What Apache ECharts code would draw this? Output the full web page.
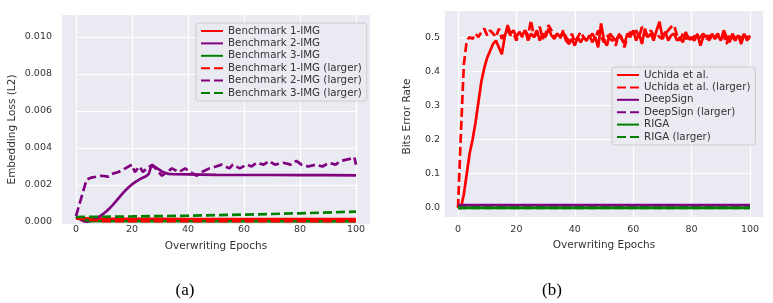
<!DOCTYPE html>
<html>
<head>
<meta charset="utf-8">
<script src="https://cdn.jsdelivr.net/npm/echarts@6/dist/echarts.min.js"></script>
<style>
  html, body { margin: 0; padding: 0; background: #fff; }
  #chart { width: 773px; height: 303px; }
</style>
</head>
<body>
<div id="chart"></div>
<script>
// ---- (a) embedding loss ----
const b1Epochs = [0, 10, 20, 30, 40, 50, 60, 70, 80, 90, 100];
const b1Loss = [0.0002, 0.00018, 0.00017, 0.00017, 0.00016, 0.00016, 0.00016, 0.00016, 0.00016, 0.00016, 0.00016];

const b2Epochs = [0, 1, 2, 3, 4, 5, 6, 7, 8, 9, 10, 11, 12, 13, 14, 15, 16, 17, 18, 19, 20,
  21, 22, 23, 24, 25, 26, 27, 28, 29, 30, 31, 32, 33, 35, 40, 45, 50, 60, 70, 80, 90, 100];
const b2Loss = [0.0003, 0.0002, 0.0001, 0.00003, 0.00002, 0.00005, 0.0001, 0.00017, 0.00026, 0.00036, 0.00047,
  0.0006, 0.00074, 0.0009, 0.00107, 0.00125, 0.00143, 0.0016, 0.00176, 0.0019, 0.00203,
  0.00214, 0.00224, 0.00233, 0.0024, 0.00247, 0.0026, 0.0031, 0.003, 0.0029, 0.0028, 0.0027, 0.00265, 0.0026,
  0.00258, 0.00257, 0.00256, 0.00255, 0.00254, 0.00254, 0.00253, 0.00253, 0.00252];

const b3Epochs = [0, 5, 100];
const b3Loss = [0.00025, 0.00004, 0.00003];

const b1LEpochs = [0, 10, 100];
const b1LLoss = [0.0002, 0.00005, 0.00005];

const b2LEpochs = [0, 3.8, 5.5, 9, 11.6, 12.8, 15.2, 17.6, 20, 21, 22.7, 23.9, 26, 27.8, 29.5, 30.7, 32.5, 34.3,
  36.7, 39, 40.7, 43.2, 45, 47.6, 50, 52, 54.8, 56, 58.5, 61, 62.7, 64.5, 67, 69, 71, 74, 76.7, 78.7,
  80.5, 83, 85.6, 88, 90.4, 92.7, 94.5, 97.5, 99.4, 100];
const b2LLoss = [0.00032, 0.0023, 0.0024, 0.0025, 0.00245, 0.0026, 0.0027, 0.0029, 0.0031, 0.0027, 0.003, 0.0027,
  0.003, 0.003, 0.0027, 0.0025, 0.0027, 0.0029, 0.0027, 0.0029, 0.0027, 0.0025, 0.0027, 0.0029, 0.003, 0.0031,
  0.0029, 0.0031, 0.0029, 0.0031, 0.003, 0.0032, 0.0031, 0.0033, 0.0031, 0.0032, 0.0031, 0.0033,
  0.0031, 0.003, 0.0031, 0.003, 0.0032, 0.0031, 0.0033, 0.0034, 0.0035, 0.0031];

const b3LEpochs = [0, 20, 40, 60, 80, 100];
const b3LLoss = [0.00027, 0.0003, 0.00034, 0.0004, 0.00047, 0.00056];

// ---- (b) bits error rate ----
const uchidaBer = [0.0, 0.0, 0.04, 0.1, 0.16, 0.2, 0.25, 0.31, 0.37, 0.41,
  0.44, 0.46, 0.48, 0.49, 0.47, 0.45, 0.5, 0.535, 0.51, 0.52,
  0.5, 0.515, 0.505, 0.52, 0.49, 0.51, 0.5, 0.52, 0.49, 0.51,
  0.5, 0.525, 0.505, 0.495, 0.51, 0.5, 0.515, 0.49, 0.48, 0.495,
  0.475, 0.5, 0.485, 0.5, 0.49, 0.505, 0.485, 0.5, 0.47, 0.54,
  0.49, 0.475, 0.51, 0.5, 0.49, 0.505, 0.495, 0.48, 0.51, 0.5,
  0.52, 0.49, 0.51, 0.48, 0.525, 0.5, 0.51, 0.49, 0.52, 0.545,
  0.5, 0.515, 0.49, 0.505, 0.51, 0.49, 0.5, 0.485, 0.515, 0.495,
  0.5, 0.49, 0.51, 0.475, 0.5, 0.505, 0.49, 0.51, 0.495, 0.505,
  0.49, 0.52, 0.5, 0.485, 0.51, 0.495, 0.505, 0.48, 0.51, 0.49, 0.505];
const uchidaLBer = [0.0, 0.22, 0.42, 0.49, 0.5, 0.495, 0.51, 0.5, 0.515, 0.525,
  0.505, 0.52, 0.51, 0.5, 0.525, 0.495, 0.515, 0.52, 0.505, 0.51,
  0.49, 0.515, 0.5, 0.52, 0.505, 0.55, 0.5, 0.51, 0.53, 0.495,
  0.51, 0.535, 0.52, 0.5, 0.51, 0.495, 0.52, 0.5, 0.49, 0.51,
  0.485, 0.5, 0.515, 0.5, 0.49, 0.5, 0.51, 0.495, 0.52, 0.5,
  0.485, 0.505, 0.495, 0.49, 0.475, 0.51, 0.5, 0.47, 0.5, 0.515,
  0.505, 0.52, 0.5, 0.53, 0.51, 0.5, 0.52, 0.505, 0.51, 0.5,
  0.495, 0.51, 0.52, 0.53, 0.535, 0.505, 0.49, 0.51, 0.495, 0.5,
  0.485, 0.505, 0.49, 0.5, 0.51, 0.495, 0.505, 0.49, 0.5, 0.51,
  0.495, 0.505, 0.48, 0.51, 0.5, 0.49, 0.505, 0.495, 0.51, 0.5, 0.495];
const flatEpochs = [0, 100];
const deepSignBer = [0.008, 0.008];
const deepSignLBer = [0.007, 0.007];
const rigaBer = [0.0, 0.0];
const rigaLBer = [0.0, 0.0];

const leftNames = ['Benchmark 1-IMG', 'Benchmark 2-IMG', 'Benchmark 3-IMG',
  'Benchmark 1-IMG (larger)', 'Benchmark 2-IMG (larger)', 'Benchmark 3-IMG (larger)'];
const rightNames = ['Uchida et al.', 'Uchida et al. (larger)', 'DeepSign',
  'DeepSign (larger)', 'RIGA', 'RIGA (larger)'];

const FONT = '"DejaVu Sans", sans-serif';
const TXT = '#333333';
const BG = '#EAEAF2';
const colors = { red: '#ff0000', purple: '#800080', green: '#008000' };

function pairs(xs, ys) {
  return xs.map((x, i) => [x, ys[i]]);
}
function indexed(ys) {
  return ys.map((y, i) => [i, y]);
}
function line(name, data, color, dashed, idx) {
  return {
    name: name,
    type: 'line',
    xAxisIndex: idx,
    yAxisIndex: idx,
    data: data,
    symbol: 'circle',
    showSymbol: false,
    smooth: false,
    silent: true,
    animation: false,
    lineStyle: { color: color, width: 2.7, type: dashed ? [9, 4] : 'solid' },
    itemStyle: { color: color }
  };
}
// the x axis sits on y = 0, which is above the grid bottom
function xAxisCfg(idx, offset, labelMargin, nameGap) {
  return {
    type: 'value', gridIndex: idx, min: 0, max: 100, interval: 20,
    position: 'bottom', offset: offset,
    name: 'Overwriting Epochs', nameLocation: 'middle', nameGap: nameGap,
    nameTextStyle: { fontFamily: FONT, fontSize: 10.5, color: TXT },
    axisLine: { show: false, onZero: false }, axisTick: { show: false },
    axisLabel: { fontFamily: FONT, fontSize: 9.5, color: TXT, margin: labelMargin },
    splitLine: { show: true, lineStyle: { color: '#ffffff', width: 1.2 } }
  };
}
function legendCfg(names, left, top) {
  return {
    data: names, orient: 'vertical', left: left, top: top,
    itemWidth: 22, itemHeight: 12, itemGap: 2.4, padding: [3, 5, 3, 4],
    backgroundColor: 'rgba(234,234,242,0.8)', borderColor: '#cccccc', borderWidth: 1, borderRadius: 3,
    selectedMode: false,
    itemStyle: { opacity: 0 },
    textStyle: { fontFamily: FONT, fontSize: 10.3, color: TXT }
  };
}

let chart = echarts.init(document.getElementById('chart'));
let option = {
  animation: false,
  backgroundColor: '#ffffff',
  graphic: [
    { type: 'rect', z: -10, shape: { x: 62, y: 15, width: 308, height: 209 }, style: { fill: BG } },
    { type: 'rect', z: -10, shape: { x: 445, y: 11, width: 318, height: 206 }, style: { fill: BG } },
    { type: 'text', x: 185, y: 291, style: { text: '(a)', fontFamily: '"Liberation Serif", serif', fontSize: 17, fill: '#000', align: 'center', verticalAlign: 'middle' } },
    { type: 'text', x: 552, y: 291, style: { text: '(b)', fontFamily: '"Liberation Serif", serif', fontSize: 17, fill: '#000', align: 'center', verticalAlign: 'middle' } }
  ],
  grid: [
    // (a): y from -0.002 to 0.012, 0 at 219px, 0.010 at 18px
    { left: 76, top: -22, width: 280, height: 281, containLabel: false },
    // (b): y from -0.1 to 0.6, 0 at 208px, 0.5 at 37px
    { left: 458, top: 3, width: 292, height: 239, containLabel: false }
  ],
  legend: [
    legendCfg(leftNames, 196, 23),
    legendCfg(rightNames, 612, 67)
  ],
  xAxis: [xAxisCfg(0, -40, 6, 22), xAxisCfg(1, -34, 17, 32)],
  yAxis: [
    {
      type: 'value', gridIndex: 0, min: -0.002, max: 0.012, interval: 0.002,
      name: 'Embedding Loss (L2)', nameLocation: 'middle', nameGap: 58,
      nameTextStyle: { fontFamily: FONT, fontSize: 10.5, color: TXT },
      axisLine: { show: false }, axisTick: { show: false },
      axisLabel: {
        fontFamily: FONT, fontSize: 9.5, color: TXT, margin: 24,
        formatter: v => (v < -1e-9 || v > 0.0101) ? '' : v.toFixed(3)
      },
      splitLine: { show: true, lineStyle: { color: '#ffffff', width: 1.2 } }
    },
    {
      type: 'value', gridIndex: 1, min: -0.1, max: 0.6, interval: 0.1,
      name: 'Bits Error Rate', nameLocation: 'middle', nameGap: 45,
      nameTextStyle: { fontFamily: FONT, fontSize: 10.5, color: TXT, padding: [0, 0, 0, 12] },
      axisLine: { show: false }, axisTick: { show: false },
      axisLabel: {
        fontFamily: FONT, fontSize: 9.5, color: TXT, margin: 18,
        formatter: v => (v < -1e-9 || v > 0.55) ? '' : v.toFixed(1)
      },
      splitLine: { show: true, lineStyle: { color: '#ffffff', width: 1.2 } }
    }
  ],
  series: [
    line(leftNames[0], pairs(b1Epochs, b1Loss), colors.red, false, 0),
    line(leftNames[1], pairs(b2Epochs, b2Loss), colors.purple, false, 0),
    line(leftNames[2], pairs(b3Epochs, b3Loss), colors.green, false, 0),
    line(leftNames[3], pairs(b1LEpochs, b1LLoss), colors.red, true, 0),
    line(leftNames[4], pairs(b2LEpochs, b2LLoss), colors.purple, true, 0),
    line(leftNames[5], pairs(b3LEpochs, b3LLoss), colors.green, true, 0),

    line(rightNames[0], indexed(uchidaBer), colors.red, false, 1),
    line(rightNames[1], indexed(uchidaLBer), colors.red, true, 1),
    line(rightNames[2], pairs(flatEpochs, deepSignBer), colors.purple, false, 1),
    line(rightNames[3], pairs(flatEpochs, deepSignLBer), colors.purple, true, 1),
    line(rightNames[4], pairs(flatEpochs, rigaBer), colors.green, false, 1),
    line(rightNames[5], pairs(flatEpochs, rigaLBer), colors.green, true, 1)
  ]
};
chart.setOption(option, true);
</script>
</body>
</html>
